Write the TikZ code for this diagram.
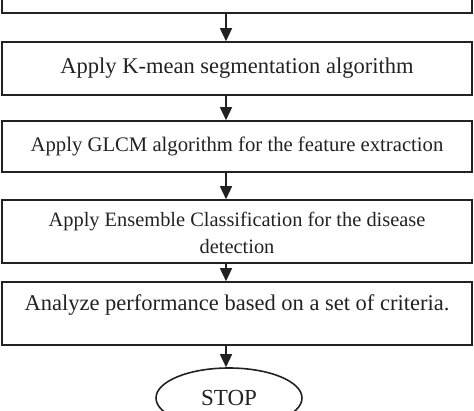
\documentclass[tikz,border=0pt]{standalone}
\usepackage{fontspec}
\setmainfont{Liberation Serif}
\usetikzlibrary{arrows.meta,shapes.geometric}
\definecolor{ink}{HTML}{222222}
\tikzset{
  box/.style={draw=ink, line width=1.6pt, rectangle, minimum width=470pt, inner sep=0pt, align=center, text=ink},
  flow/.style={draw=ink, line width=1.5pt, -{Triangle[length=13pt,width=12pt]}},
  term/.style={draw=ink, line width=1.6pt, ellipse, minimum width=146pt, minimum height=60pt, inner sep=0pt, font=\fontsize{23}{27}\selectfont, text=ink}
}
\begin{document}
\begin{tikzpicture}[x=1pt,y=1pt]
\useasboundingbox (0,0) rectangle (474,-410);
\clip (0,0) rectangle (474,-410);
\coordinate (ax) at (226,0);
\node[box, minimum height=50pt] (b0) at (237,12) {};
\node[box, minimum height=53pt, font=\fontsize{22.5}{27}\selectfont] (b1) at (237,-68.5) {Apply K-mean segmentation algorithm};
\node[box, minimum height=51pt, font=\fontsize{20.7}{27}\selectfont] (b2) at (237,-146.5) {Apply GLCM algorithm for the feature extraction};
\node[box, minimum height=63pt, font=\fontsize{20.4}{27}\selectfont] (b3) at (237,-231.5) {\raisebox{-3pt}[\height][\depth]{\begin{tabular}{@{}c@{}}Apply Ensemble Classification for the disease\\detection\end{tabular}}};
\node[box, minimum height=63pt, font=\fontsize{22.5}{27}\selectfont] (b4) at (237,-313.5) {\raisebox{8.5pt}[\height][\depth]{Analyze performance based on a set of criteria.}};
\node[term] (stop) at (229,-398) {STOP};
\draw[flow] (b0.south -| ax) -- (b1.north -| ax);
\draw[flow] (b1.south -| ax) -- (b2.north -| ax);
\draw[flow] (b2.south -| ax) -- (b3.north -| ax);
\draw[flow] (b3.south -| ax) -- (b4.north -| ax);
\draw[flow] (b4.south -| ax) -- (stop.north -| ax);
\end{tikzpicture}
\end{document}
